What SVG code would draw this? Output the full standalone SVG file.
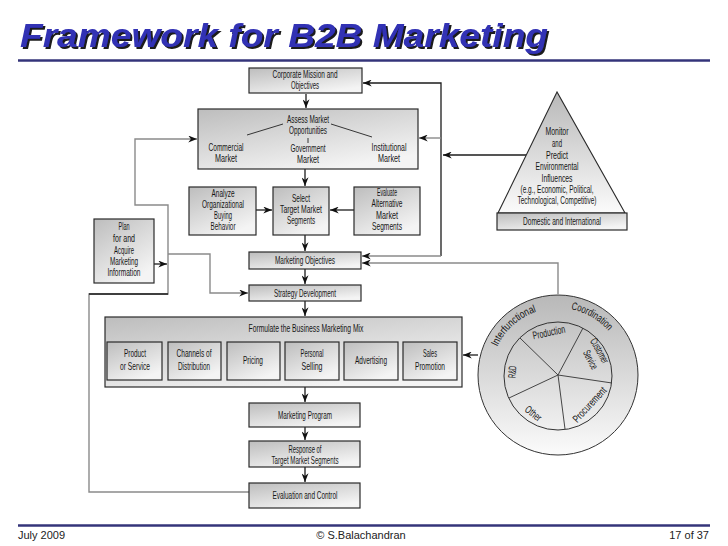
<svg xmlns="http://www.w3.org/2000/svg" width="728" height="546" viewBox="0 0 728 546">
<style>
.t{font-family:"Liberation Sans Narrow","Liberation Sans",Arial,sans-serif;font-size:10.8px;fill:#151515;text-anchor:middle}
.b{fill:url(#g);stroke:#2a2a2a;stroke-width:1.2}
.c{fill:none;stroke:#8a8a8a;stroke-width:1.4}
.k{fill:none;stroke:#1c1c1c;stroke-width:1.3}
.a{marker-end:url(#ah)}
.ft{font-family:"Liberation Sans",Arial,sans-serif;font-size:11px;fill:#222}
</style>
<defs>
<linearGradient id="g" x1="0" y1="0" x2="0.6" y2="1">
<stop offset="0" stop-color="#bdbdbd"/><stop offset="1" stop-color="#f4f4f4"/>
</linearGradient>
<linearGradient id="gv" x1="0" y1="0" x2="0" y2="1">
<stop offset="0" stop-color="#b8b8b8"/><stop offset="1" stop-color="#fbfbfb"/>
</linearGradient>
<filter id="sh" x="-5%" y="-20%" width="110%" height="140%">
<feOffset in="SourceAlpha" dx="2" dy="2" result="o"/>
<feFlood flood-color="#1a1a1a"/>
<feComposite in2="o" operator="in" result="s"/>
<feMerge><feMergeNode in="s"/><feMergeNode in="SourceGraphic"/></feMerge>
</filter>
<marker id="ah" viewBox="0 0 10 8" refX="10" refY="4" markerWidth="9" markerHeight="7" orient="auto" markerUnits="userSpaceOnUse">
<path d="M0,0 L10,4 L0,8 L3,4 z" fill="#111"/>
</marker>
</defs>
<rect width="728" height="546" fill="#fff"/>

<g id="title">
<text x="20" y="47" font-family="Liberation Sans,Arial,sans-serif" font-size="34" font-weight="bold" font-style="italic" fill="#3030b4" textLength="528" lengthAdjust="spacingAndGlyphs" filter="url(#sh)">Framework for B2B Marketing</text>
<line x1="18" y1="60.5" x2="710" y2="60.5" stroke="#34347a" stroke-width="2.5"/>
</g>

<g id="connectors">
<path class="k a" d="M306,94 V108"/>
<path class="k a" d="M305,169 V186"/>
<path class="k a" d="M305,235 V251"/>
<path class="k a" d="M305,269 V284"/>
<path class="k a" d="M305,301 V316"/>
<path class="k a" d="M305,387 V402"/>
<path class="k a" d="M305,427 V440"/>
<path class="k a" d="M305,467 V482"/>
<path class="k a" d="M256,210 H272"/>
<path class="k a" d="M354,210 H330"/>
<path class="k a" d="M441,256 V83 H363"/>
<path class="c a" d="M441,256 H362"/>
<path class="c a" d="M441,138 H419"/>
<path class="k a" d="M526,155 H443"/>
<path class="c a" d="M558,294 V263 H362"/>
<path class="k a" d="M478,355 H463"/>
<path class="c a" d="M249,492 H89 V294 H168 V205 H135 V139 H197"/>
<path class="k" d="M89,294 H168"/>
<path class="c a" d="M168,254 H210 V293 H248"/>
<path class="k a" d="M154,264 H167"/>
</g>

<g id="corporate-mission">
<rect class="b" x="249" y="68" width="113" height="25"/>
<text class="t" x="305" y="78" textLength="65" lengthAdjust="spacingAndGlyphs">Corporate Mission and</text>
<text class="t" x="305" y="89" textLength="28" lengthAdjust="spacingAndGlyphs">Objectives</text>
</g>

<g id="assess-market">
<rect class="b" x="198" y="109" width="220" height="60"/>
<text class="t" x="308" y="123" textLength="42" lengthAdjust="spacingAndGlyphs">Assess Market</text>
<text class="t" x="308" y="134" textLength="38" lengthAdjust="spacingAndGlyphs">Opportunities</text>
<line x1="308" y1="138" x2="308" y2="143" stroke="#222" stroke-width="0.9"/>
<line x1="247" y1="135" x2="283" y2="124" stroke="#222" stroke-width="0.9"/>
<line x1="331" y1="124" x2="372" y2="137" stroke="#222" stroke-width="0.9"/>
<text class="t" x="226" y="151" textLength="35" lengthAdjust="spacingAndGlyphs">Commercial</text>
<text class="t" x="226" y="162" textLength="22" lengthAdjust="spacingAndGlyphs">Market</text>
<text class="t" x="308" y="152" textLength="35" lengthAdjust="spacingAndGlyphs">Government</text>
<text class="t" x="308" y="163" textLength="22" lengthAdjust="spacingAndGlyphs">Market</text>
<text class="t" x="389" y="151" textLength="35" lengthAdjust="spacingAndGlyphs">Institutional</text>
<text class="t" x="389" y="162" textLength="22" lengthAdjust="spacingAndGlyphs">Market</text>
</g>

<g id="analyze">
<rect class="b" x="189" y="187" width="67" height="48"/>
<text class="t" x="223" y="197" textLength="23" lengthAdjust="spacingAndGlyphs">Analyze</text>
<text class="t" x="223" y="207.5" textLength="42" lengthAdjust="spacingAndGlyphs">Organizational</text>
<text class="t" x="223" y="219" textLength="18" lengthAdjust="spacingAndGlyphs">Buying</text>
<text class="t" x="223" y="229.5" textLength="25" lengthAdjust="spacingAndGlyphs">Behavior</text>
</g>

<g id="select-target">
<rect class="b" x="273" y="187" width="56" height="48"/>
<text class="t" x="301" y="202" textLength="18" lengthAdjust="spacingAndGlyphs">Select</text>
<text class="t" x="301" y="213" textLength="42" lengthAdjust="spacingAndGlyphs">Target Market</text>
<text class="t" x="301" y="224" textLength="28" lengthAdjust="spacingAndGlyphs">Segments</text>
</g>

<g id="evaluate">
<rect class="b" x="354" y="187" width="66" height="48"/>
<text class="t" x="387" y="196" textLength="20" lengthAdjust="spacingAndGlyphs">Evaluate</text>
<text class="t" x="387" y="207" textLength="31" lengthAdjust="spacingAndGlyphs">Alternative</text>
<text class="t" x="387" y="218.5" textLength="22" lengthAdjust="spacingAndGlyphs">Market</text>
<text class="t" x="387" y="229.5" textLength="30" lengthAdjust="spacingAndGlyphs">Segments</text>
</g>

<g id="marketing-objectives">
<rect class="b" x="249" y="252" width="112" height="17"/>
<text class="t" x="305" y="264" textLength="60" lengthAdjust="spacingAndGlyphs">Marketing Objectives</text>
</g>

<g id="strategy-development">
<rect class="b" x="249" y="285" width="112" height="16"/>
<text class="t" x="305" y="297" textLength="62" lengthAdjust="spacingAndGlyphs">Strategy Development</text>
</g>

<g id="plan">
<rect class="b" x="94" y="219" width="60" height="64"/>
<text class="t" x="124" y="230" textLength="11" lengthAdjust="spacingAndGlyphs">Plan</text>
<text class="t" x="124" y="242" textLength="22" lengthAdjust="spacingAndGlyphs">for and</text>
<text class="t" x="124" y="253.5" textLength="20" lengthAdjust="spacingAndGlyphs">Acquire</text>
<text class="t" x="124" y="265" textLength="28" lengthAdjust="spacingAndGlyphs">Marketing</text>
<text class="t" x="124" y="276" textLength="33" lengthAdjust="spacingAndGlyphs">Information</text>
</g>

<g id="environment">
<polygon points="557,92 498,213 625,213" fill="url(#gv)" stroke="#2a2a2a" stroke-width="1.1"/>
<text class="t" x="557" y="135" textLength="23" lengthAdjust="spacingAndGlyphs">Monitor</text>
<text class="t" x="557" y="147" textLength="10" lengthAdjust="spacingAndGlyphs">and</text>
<text class="t" x="557" y="159" textLength="22" lengthAdjust="spacingAndGlyphs">Predict</text>
<text class="t" x="557" y="170" textLength="43" lengthAdjust="spacingAndGlyphs">Environmental</text>
<text class="t" x="557" y="182" textLength="31" lengthAdjust="spacingAndGlyphs">Influences</text>
<text class="t" x="557" y="193" textLength="73" lengthAdjust="spacingAndGlyphs">(e.g., Economic, Political,</text>
<text class="t" x="557" y="204" textLength="79" lengthAdjust="spacingAndGlyphs">Technological, Competitive)</text>
<rect class="b" x="497" y="213" width="130" height="17"/>
<text class="t" x="562" y="225" textLength="78" lengthAdjust="spacingAndGlyphs">Domestic and International</text>
</g>

<g id="formulate-mix">
<rect class="b" x="105" y="317" width="357" height="70"/>
<text class="t" x="306" y="332" textLength="115" lengthAdjust="spacingAndGlyphs">Formulate the Business Marketing Mix</text>
<g id="product">
<rect class="b" x="107" y="342" width="55" height="38"/>
<text class="t" x="135" y="357" textLength="22" lengthAdjust="spacingAndGlyphs">Product</text>
<text class="t" x="135" y="370" textLength="30" lengthAdjust="spacingAndGlyphs">or Service</text>
</g>
<g id="channels">
<rect class="b" x="168" y="342" width="53" height="38"/>
<text class="t" x="194" y="357" textLength="35" lengthAdjust="spacingAndGlyphs">Channels of</text>
<text class="t" x="194" y="370" textLength="32" lengthAdjust="spacingAndGlyphs">Distribution</text>
</g>
<g id="pricing">
<rect class="b" x="227" y="342" width="53" height="38"/>
<text class="t" x="253" y="364" textLength="20" lengthAdjust="spacingAndGlyphs">Pricing</text>
</g>
<g id="personal-selling">
<rect class="b" x="285" y="342" width="54" height="38"/>
<text class="t" x="312" y="357" textLength="23" lengthAdjust="spacingAndGlyphs">Personal</text>
<text class="t" x="312" y="370" textLength="21" lengthAdjust="spacingAndGlyphs">Selling</text>
</g>
<g id="advertising">
<rect class="b" x="344" y="342" width="54" height="38"/>
<text class="t" x="371" y="364" textLength="32" lengthAdjust="spacingAndGlyphs">Advertising</text>
</g>
<g id="sales-promotion">
<rect class="b" x="403" y="342" width="54" height="38"/>
<text class="t" x="430" y="357" textLength="14" lengthAdjust="spacingAndGlyphs">Sales</text>
<text class="t" x="430" y="370" textLength="30" lengthAdjust="spacingAndGlyphs">Promotion</text>
</g>
</g>

<g id="interfunctional-coordination">
<circle cx="558" cy="375" r="80" fill="url(#gv)" stroke="#333" stroke-width="1"/>
<circle cx="558" cy="376" r="54" fill="none" stroke="#333" stroke-width="1"/>
<g stroke="#333" stroke-width="0.9">
<line x1="558" y1="375" x2="520" y2="338"/>
<line x1="558" y1="375" x2="583" y2="328"/>
<line x1="558" y1="375" x2="612" y2="383"/>
<line x1="558" y1="375" x2="565" y2="429"/>
<line x1="558" y1="375" x2="509" y2="398"/>
</g>
<path id="arcL" d="M496.3,348.8 A67,67 0 0 1 538.4,310.9" fill="none"/>
<path id="arcR" d="M563.8,308.3 A67,67 0 0 1 612.9,336.6" fill="none"/>
<text class="t"><textPath href="#arcL" startOffset="50%" textLength="54" lengthAdjust="spacingAndGlyphs">Interfunctional</textPath></text>
<text class="t"><textPath href="#arcR" startOffset="50%" textLength="44" lengthAdjust="spacingAndGlyphs">Coordination</textPath></text>
<text class="t" transform="translate(549,333) rotate(-12)" y="3" textLength="33" lengthAdjust="spacingAndGlyphs">Production</text>
<text class="t" transform="translate(599,351) rotate(61)" y="3" textLength="27" lengthAdjust="spacingAndGlyphs">Customer</text>
<text class="t" transform="translate(590,360) rotate(62)" y="3" textLength="20" lengthAdjust="spacingAndGlyphs">Service</text>
<text class="t" transform="translate(513,372) rotate(-86)" y="3" textLength="12" lengthAdjust="spacingAndGlyphs">R&amp;D</text>
<text class="t" transform="translate(533,414) rotate(38)" y="3" textLength="18" lengthAdjust="spacingAndGlyphs">Other</text>
<text class="t" transform="translate(590,405) rotate(-47)" y="3" textLength="44" lengthAdjust="spacingAndGlyphs">Procurement</text>
</g>

<g id="marketing-program">
<rect class="b" x="249" y="403" width="111" height="24"/>
<text class="t" x="305" y="418.5" textLength="54" lengthAdjust="spacingAndGlyphs">Marketing Program</text>
</g>

<g id="response">
<rect class="b" x="249" y="441" width="111" height="26"/>
<text class="t" x="305" y="453" textLength="33" lengthAdjust="spacingAndGlyphs">Response of</text>
<text class="t" x="305" y="463.5" textLength="67" lengthAdjust="spacingAndGlyphs">Target Market Segments</text>
</g>

<g id="evaluation-control">
<rect class="b" x="249" y="483" width="111" height="25"/>
<text class="t" x="305" y="499" textLength="65" lengthAdjust="spacingAndGlyphs">Evaluation and Control</text>
</g>

<g id="footer">
<line x1="18" y1="525.5" x2="710" y2="525.5" stroke="#34347a" stroke-width="2.5"/>
<text class="ft" x="18" y="539">July 2009</text>
<text class="ft" x="361" y="539" text-anchor="middle">© S.Balachandran</text>
<text class="ft" x="709" y="539" text-anchor="end">17 of 37</text>
</g>
</svg>
